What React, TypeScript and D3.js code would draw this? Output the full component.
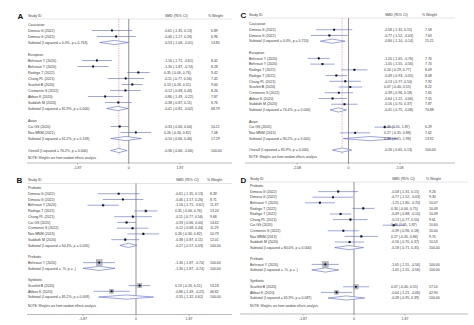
import React from 'react';
import * as d3 from 'd3';

// ---------- Panel A ----------
const aLabels = ["Caucasian","Dimova G (2022)","Dimova G (2022)","Subtotal  (I-squared = 0.0%, p = 0.763)","","European","Behrouzi Y (2020)","Behrouzi Y (2020)","Rodrigo T (2022)","Chang PL (2021)","Scarlett B (2020)","Cremonini S (2022)","Abbari K (2020)","Sudduth M (2020)","Subtotal  (I-squared = 81.9%, p = 0.000)","","Asian","Cai GS (2020)","Nav MNM (2021)","Subtotal  (I-squared = 61.2%, p = 0.109)","","Overall  (I-squared = 76.2%, p = 0.000)"];
const aKinds = ["g","s","s","t","b","g","s","s","s","s","s","s","s","s","t","b","g","s","s","t","b","o"];
const aSmd = [null,-0.61,-0.46,-0.53,null,null,-1.16,-1.30,0.35,-0.11,0.13,-0.12,-0.86,-0.38,-0.41,null,null,-0.33,0.26,-0.10,null,-0.36];
const aLo = [null,-1.35,-1.17,-1.06,null,null,-1.71,-1.87,-0.06,-0.77,-0.26,-0.68,-1.49,-0.87,-0.81,null,null,-0.66,-0.30,-0.66,null,-0.66];
const aHi = [null,0.13,0.26,-0.01,null,null,-0.61,-0.74,0.76,0.56,0.51,0.44,-0.22,0.11,-0.02,null,null,0.00,0.82,0.46,null,-0.06];
const aWt = [null,6.89,6.96,13.85,null,null,8.42,8.28,9.42,7.45,9.60,8.26,7.87,8.76,68.79,null,null,10.21,7.08,17.29,null,100.00];
const aTicks = [-1.87, 0, 1.87];

// ---------- Panel B ----------
const bLabels = ["Probiotic","Dimova G (2022)","Dimova G (2022)","Behrouzi Y (2020)","Rodrigo T (2022)","Chang PL (2021)","Cai GS (2020)","Cremonini S (2022)","Nav MNM (2013)","Sudduth M (2020)","Subtotal  (I-squared = 64.4%, p = 0.005)","","Prebiotic","Behrouzi Y (2020)","Subtotal  (I-squared = .%, p = .)","","Synbiotic","Scarlett B (2020)","Abbari K (2020)","Subtotal  (I-squared = 85.2%, p = 0.009)"];
const bKinds = ["g","s","s","s","s","s","s","s","s","s","t","b","g","s","t","b","g","s","s","t"];
const bSmd = [null,-0.61,-0.46,-1.16,0.35,-0.11,-0.33,-0.12,0.26,-0.38,-0.27,null,null,-1.30,-1.30,null,null,0.13,-0.86,-0.35];
const bLo = [null,-1.35,-1.17,-1.71,-0.06,-0.77,-0.66,-0.68,-0.30,-0.87,-0.57,null,null,-1.87,-1.87,null,null,-0.26,-1.49,-1.32];
const bHi = [null,0.13,0.26,-0.61,0.76,0.56,0.00,0.44,0.82,0.11,0.03,null,null,-0.74,-0.74,null,null,0.51,-0.22,0.62];
const bWt = [null,8.39,8.71,11.37,13.24,9.68,14.62,11.29,10.79,12.01,100.00,null,null,100.00,100.00,null,null,53.18,46.82,100.00];
const bTicks = [-1.87, 0, 1.87];

// ---------- Panel C ----------
const cLabels = ["Caucasian","Dimova G (2022)","Dimova G (2022)","Subtotal  (I-squared = 0.0%, p = 0.720)","","European","Behrouzi Y (2020)","Behrouzi Y (2020)","Rodrigo T (2022)","Rodrigo T (2022)","Chang PL (2021)","Scarlett B (2020)","Cremonini S (2022)","Abbari K (2020)","Sudduth M (2020)","Subtotal  (I-squared = 74.4%, p = 0.000)","","Asian","Cai GS (2020)","Nav MNM (2013)","Subtotal  (I-squared = 90.2%, p = 0.001)","","Overall  (I-squared = 85.9%, p = 0.000)"];
const cKinds = ["g","s","s","t","b","g","s","s","s","s","s","s","s","s","s","t","b","g","s","s","t","b","o"];
const cSmd = [null,-0.58,-0.77,-0.66,null,null,-1.20,-1.05,0.24,-0.49,-0.13,0.07,-0.39,-0.64,-0.16,-0.41,null,null,1.46,0.27,0.88,null,-0.26];
const cLo = [null,-1.31,-1.52,-1.14,null,null,-1.65,-1.55,-0.29,-0.93,-0.77,-0.40,-0.96,-1.21,-0.70,-0.75,null,null,1.05,-0.35,-0.21,null,-0.65];
const cHi = [null,0.15,-0.03,-0.14,null,null,-0.76,-0.56,0.77,-0.05,0.50,0.55,0.18,-0.06,0.37,-0.08,null,null,1.87,0.88,1.98,null,0.13];
const cWt = [null,7.58,7.63,15.21,null,null,7.76,7.74,8.09,8.08,7.92,8.22,7.65,7.55,7.87,70.88,null,null,6.29,7.62,13.91,null,100.00];
const cTicks = [-2.08, 0, 2.08];

// ---------- Panel D ----------
const dLabels = ["Probiotic","Dimova G (2022)","Dimova G (2022)","Behrouzi Y (2020)","Rodrigo T (2022)","Rodrigo T (2022)","Chang PL (2021)","Cai GS (2020)","Cremonini S (2022)","Nav MNM (2013)","Sudduth M (2020)","Subtotal  (I-squared = 80.0%, p = 0.000)","","Prebiotic","Behrouzi Y (2020)","Subtotal  (I-squared = .%, p = .)","","Synbiotic","Scarlett B (2020)","Abbari K (2020)","Subtotal  (I-squared = 65.9%, p = 0.087)"];
const dKinds = ["g","s","s","s","s","s","s","s","s","s","s","t","b","g","s","t","b","g","s","s","t"];
const dSmd = [null,-0.58,-0.77,-1.25,0.34,-0.49,-0.13,1.46,-0.39,0.27,-0.16,-0.18,null,null,-1.05,-1.05,null,null,0.07,-0.64,-0.28];
const dLo = [null,-1.31,-1.52,-1.80,-0.06,-0.88,-0.77,1.05,-0.96,-0.35,-0.70,-0.71,null,null,-1.55,-1.55,null,null,-0.40,-1.21,-0.95];
const dHi = [null,0.15,-0.03,-0.70,0.75,-0.10,0.50,1.87,0.18,0.88,0.37,0.35,null,null,-0.56,-0.56,null,null,0.55,-0.06,0.39];
const dWt = [null,9.26,9.30,10.07,10.49,10.49,9.61,10.60,10.00,9.75,10.53,100.00,null,null,100.00,100.00,null,null,57.10,42.90,100.00];
const dTicks = [-1.87, 0, 1.87];

const NOTE = "NOTE: Weights are from random effects analysis";

const FONT = "'Liberation Sans', Arial, sans-serif";
const FS = 3.5;
const TXT = "#3a3a3a";
const BLUE = "#4a5ad6";

type Cfg = {
  letter: string; letterX: number; letterY: number;
  labelX: number; headerY: number; headLineY: number; left: number; right: number;
  range: [number, number]; y0: number; pitch: number;
  smdX: number; wtX: number; noteY: number; axisY: number; zeroTop: number;
  dashed: boolean; boxK: number;
};

function Panel({ cfg, labels, kinds, smd, lo, hi, wt, ticks }: any) {
  const c: Cfg = cfg;
  const x = d3.scaleLinear().domain([ticks[0], ticks[ticks.length - 1]]).range(c.range);
  const y = (i: number) => c.y0 + i * c.pitch;
  const fmt = (v: number) => v.toFixed(2);
  const overallIdx = kinds.indexOf("o");
  const bl = FS * 0.35;
  return (
    <g fontFamily={FONT}>
      <text x={c.letterX} y={c.letterY} fontSize={8} fontWeight="bold" fill="#111">{c.letter}</text>
      <text x={c.labelX} y={c.headerY + bl} fontSize={FS} fill={TXT}>Study  ID</text>
      <text x={c.smdX + 1} y={c.headerY + bl} fontSize={FS} fill={TXT}>SMD (95% CI)</text>
      <text x={c.wtX - 3} y={c.headerY + bl} fontSize={FS} fill={TXT}>%  Weight</text>
      <line x1={c.labelX - 1} x2={c.right} y1={c.headLineY} y2={c.headLineY} stroke="#bbb" strokeWidth={0.4} />
      {/* zero line */}
      <line x1={x(0)} x2={x(0)} y1={c.zeroTop} y2={c.axisY} stroke="#222" strokeWidth={0.5} />
      {c.dashed && overallIdx >= 0 && (
        <line x1={x(smd[overallIdx])} x2={x(smd[overallIdx])} y1={c.zeroTop} y2={c.noteY - 2}
          stroke="#e0606a" strokeWidth={0.5} strokeDasharray="1.4 1" />
      )}
      {labels.map((lab: string, i: number) => {
        const k = kinds[i];
        const yy = y(i);
        const els: any[] = [];
        if (lab) els.push(<text key="l" x={c.labelX} y={yy + bl} fontSize={FS} fill={TXT}>{lab}</text>);
        if (k === "s") {
          const s = c.boxK * Math.sqrt(wt[i]);
          els.push(<rect key="b" x={x(smd[i]) - s / 2} y={yy - s / 2} width={s} height={s} fill="#b9b9b9" stroke="#8a8a8a" strokeWidth={0.3} />);
          els.push(<line key="ci" x1={x(lo[i])} x2={x(hi[i])} y1={yy} y2={yy} stroke={BLUE} strokeWidth={0.55} />);
          els.push(<circle key="p" cx={x(smd[i])} cy={yy} r={1.05} fill="#111" />);
        }
        if (k === "t" || k === "o") {
          const h = 2.1;
          const pts = [[x(lo[i]), yy], [x(smd[i]), yy - h], [x(hi[i]), yy], [x(smd[i]), yy + h]];
          els.push(<polygon key="d" points={pts.map(p => p.join(",")).join(" ")} fill="white" stroke={BLUE} strokeWidth={0.55} />);
        }
        if (k === "s" || k === "t" || k === "o") {
          els.push(<text key="e" x={c.smdX} y={yy + bl} fontSize={FS} fill={TXT}>{`${fmt(smd[i])} (${fmt(lo[i])}, ${fmt(hi[i])})`}</text>);
          els.push(<text key="w" x={c.wtX} y={yy + bl} fontSize={FS} fill={TXT}>{fmt(wt[i])}</text>);
        }
        return <g key={i}>{els}</g>;
      })}
      <text x={c.labelX} y={c.noteY + bl} fontSize={FS * 0.9} fill={TXT}>{NOTE}</text>
      <line x1={c.left} x2={c.right} y1={c.axisY} y2={c.axisY} stroke="#777" strokeWidth={0.5} />
      {ticks.map((t: number, i: number) => (
        <g key={i}>
          <line x1={x(t)} x2={x(t)} y1={c.axisY} y2={c.axisY + 1.5} stroke="#555" strokeWidth={0.4} />
          <text x={x(t)} y={c.axisY + 5.5} fontSize={FS} fill={TXT} textAnchor="middle">{t === 0 ? "0" : t.toFixed(2)}</text>
        </g>
      ))}
    </g>
  );
}

const cfgA: Cfg = { letter: "A", letterX: 17.5, letterY: 18.5, labelX: 28, headerY: 15.5, headLineY: 19, left: 27, right: 232,
  range: [77.5, 180], y0: 24.5, pitch: 6, smdX: 164, wtX: 211, noteY: 157.5, axisY: 163, zeroTop: 19, dashed: true, boxK: 0.6 };
const cfgB: Cfg = { letter: "B", letterX: 16.5, letterY: 183, labelX: 28, headerY: 180, headLineY: 183.5, left: 27, right: 232,
  range: [83, 189], y0: 188, pitch: 5.74, smdX: 175, wtX: 210, noteY: 306, axisY: 314.5, zeroTop: 183.5, dashed: false, boxK: 0.6 };
const cfgC: Cfg = { letter: "C", letterX: 240.5, letterY: 18.3, labelX: 249, headerY: 14.5, headLineY: 18, left: 245, right: 455,
  range: [297, 400], y0: 24, pitch: 5.73, smdX: 384, wtX: 425, noteY: 157, axisY: 163, zeroTop: 18, dashed: true, boxK: 0.6 };
const cfgD: Cfg = { letter: "D", letterX: 240.5, letterY: 183, labelX: 250, headerY: 178.5, headLineY: 182, left: 240, right: 468,
  range: [303, 405], y0: 186, pitch: 5.6, smdX: 391, wtX: 429, noteY: 306, axisY: 314, zeroTop: 182, dashed: false, boxK: 0.6 };

export default function App() {
  return (
    <svg width={474} height={325} style={{ position: "absolute", left: 0, top: 0, background: "white" }}>
      <rect width={474} height={325} fill="white" />
      <Panel cfg={cfgA} labels={aLabels} kinds={aKinds} smd={aSmd} lo={aLo} hi={aHi} wt={aWt} ticks={aTicks} />
      <Panel cfg={cfgB} labels={bLabels} kinds={bKinds} smd={bSmd} lo={bLo} hi={bHi} wt={bWt} ticks={bTicks} />
      <Panel cfg={cfgC} labels={cLabels} kinds={cKinds} smd={cSmd} lo={cLo} hi={cHi} wt={cWt} ticks={cTicks} />
      <Panel cfg={cfgD} labels={dLabels} kinds={dKinds} smd={dSmd} lo={dLo} hi={dHi} wt={dWt} ticks={dTicks} />
    </svg>
  );
}
